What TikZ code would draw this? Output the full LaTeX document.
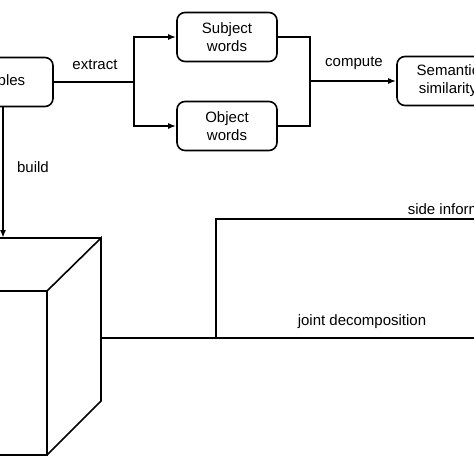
\documentclass[tikz,border=0pt]{standalone}
\usepackage{fontspec}
\setmainfont{Liberation Sans}
\usepackage{tikz}
\usetikzlibrary{positioning,arrows.meta}

\begin{document}
\begin{tikzpicture}[
  x=1pt,y=-1pt,
  font=\fontsize{15}{18}\selectfont,
  line width=1.6pt,
  block/.style={draw,rounded corners=8pt,minimum height=49pt,minimum width=100pt,align=center,fill=white,inner sep=2pt},
  lbl/.style={inner sep=1pt},
  arr/.style={-{Latex[length=8pt,width=6pt]}}]
  \useasboundingbox (0,0) rectangle (474,474);
  \clip (0,0) rectangle (474,474);
  % boxes
  \node[block] (triples) at (3,82) {Triples};
  \node[block] (subj) at (227,37) {Subject\\words};
  \node[block] (obj) at (227,126) {Object\\words};
  \node[block,minimum width=102pt] (sem) at (448,81) {Semantic\\similarity};
  % cube
  \coordinate (cubetop) at (3,238);
  \draw (-60,455) -- (47,455) -- (47,291) -- (-60,291);
  \draw (47,455) -- (101,401) -- (101,238) -- (47,291);
  \draw (101,238) -- (-20,238);
  % connectors
  \coordinate (split) at (134,82);
  \coordinate (join) at (310,81);
  \draw (triples) -- (split);
  \draw[arr] (split) |- (subj);
  \draw[arr] (split) |- (obj);
  \draw (subj) -| (join);
  \draw (obj) -| (join);
  \draw[arr] (join) -- (sem);
  \draw[arr] (triples) -- (cubetop);
  \coordinate (cubeout) at (101,338);
  \coordinate (jd) at (216,338);
  \coordinate (jdend) at (500,338);
  \coordinate (sideend) at (500,219);
  \draw (cubeout) -- (jdend);
  \draw (jd) |- (sideend);
  % labels
  \node[lbl] (extractlbl) at (95,65) {extract};
  \node[lbl] (computelbl) at (354,63) {compute};
  \node[lbl] (buildlbl) at (33,167) {build};
  \node[lbl,anchor=west] (sidelbl) at (406,209) {side information};
  \node[lbl] (jdlbl) at (362,322) {joint decomposition};
\end{tikzpicture}
\end{document}
